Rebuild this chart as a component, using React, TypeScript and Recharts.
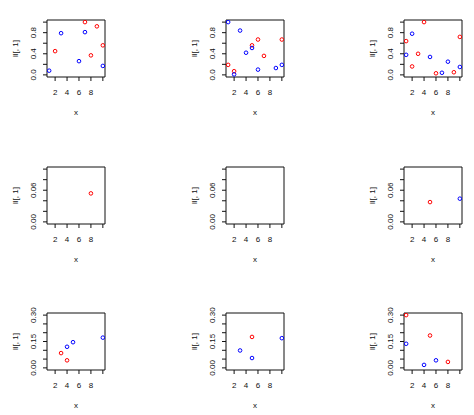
import React from "react";
import { ScatterChart, Scatter, XAxis, YAxis, ReferenceArea } from "recharts";

type Pt = [number, number];

// x positions shared by every panel
const xTicks = [2, 4, 6, 8, 10];
const xTickLabels = ["2", "4", "6", "8", ""];

// y axis per row
const rowYMax = [1, 0.1, 0.3];
const row1Ticks = [0, 0.2, 0.4, 0.6, 0.8, 1.0];
const row1Labels = ["0.0", "", "0.4", "", "0.8", ""];
const row2Ticks = [0, 0.02, 0.04, 0.06, 0.08, 0.1];
const row2Labels = ["0.00", "", "", "0.06", "", ""];
const row3Ticks = [0, 0.05, 0.1, 0.15, 0.2, 0.25, 0.3];
const row3Labels = ["0.00", "", "", "0.15", "", "", "0.30"];

// points, [x, ll[,1]]
const p1Red: Pt[] = [[2, 0.45], [7, 1.0], [8, 0.37], [9, 0.92], [10, 0.56]];
const p1Blue: Pt[] = [[1, 0.08], [3, 0.79], [6, 0.26], [7, 0.81], [10, 0.17]];
const p2Red: Pt[] = [[1, 0.19], [2, 0.07], [5, 0.56], [6, 0.67], [7, 0.36], [10, 0.67]];
const p2Blue: Pt[] = [[1, 1.0], [2, 0.01], [3, 0.84], [4, 0.42], [5, 0.51], [6, 0.1], [9, 0.13], [10, 0.19]];
const p3Red: Pt[] = [[1, 0.64], [2, 0.16], [3, 0.4], [4, 1.0], [6, 0.03], [9, 0.05], [10, 0.72]];
const p3Blue: Pt[] = [[1, 0.38], [2, 0.78], [5, 0.34], [7, 0.04], [8, 0.25], [10, 0.15]];
const p4Red: Pt[] = [[8, 0.054]];
const p4Blue: Pt[] = [];
const p5Red: Pt[] = [];
const p5Blue: Pt[] = [];
const p6Red: Pt[] = [[5, 0.0375]];
const p6Blue: Pt[] = [[10, 0.044]];
const p7Red: Pt[] = [[3, 0.084], [4, 0.043]];
const p7Blue: Pt[] = [[4, 0.12], [5, 0.146], [10, 0.172]];
const p8Red: Pt[] = [[5, 0.176]];
const p8Blue: Pt[] = [[3, 0.099], [5, 0.056], [10, 0.169]];
const p9Red: Pt[] = [[1, 0.3], [5, 0.184], [8, 0.034]];
const p9Blue: Pt[] = [[1, 0.137], [4, 0.017], [6, 0.043]];

const panels = [
  [p1Red, p1Blue], [p2Red, p2Blue], [p3Red, p3Blue],
  [p4Red, p4Blue], [p5Red, p5Blue], [p6Red, p6Blue],
  [p7Red, p7Blue], [p8Red, p8Blue], [p9Red, p9Blue],
];
const rowTicks = [row1Ticks, row2Ticks, row3Ticks];
const rowLabels = [row1Labels, row2Labels, row3Labels];

// layout of the plot boxes on the page
const boxLeft = [47, 225.5, 403.5];
const boxTop = [19.5, 166.5, 312.5];
const FONT = "'Liberation Sans', Arial, sans-serif";
const INK = "#111";

const toData = (pts: Pt[]) => pts.map(([x, y]) => ({ x, y }));

const circle = (color: string) => (props: any) =>
  props.cx == null ? <g /> : (
    <circle cx={props.cx} cy={props.cy} r={1.8} fill="none" stroke={color} strokeWidth={1} />
  );

function Panel({ idx }: { idx: number }) {
  const row = Math.floor(idx / 3);
  const col = idx % 3;
  const yMax = rowYMax[row];
  const yDomain = [-0.04 * yMax, 1.04 * yMax];
  const xDomain = [0.64, 10.36];
  const [red, blue] = panels[idx];
  const labels = rowLabels[row];

  const XTick = (p: any) => (
    <text x={p.x} y={p.y} textAnchor="middle" dominantBaseline="central"
      fontSize={8} fontFamily={FONT} fill={INK}>
      {xTickLabels[p.index]}
    </text>
  );
  const YTick = (p: any) => (
    <text x={p.x} y={p.y} transform={`rotate(-90 ${p.x} ${p.y})`} textAnchor="middle"
      dominantBaseline="central" fontSize={8} fontFamily={FONT} fill={INK}>
      {labels[p.index]}
    </text>
  );
  const xTitle = (p: any) => {
    const vb = p.viewBox || {};
    return (
      <text x={vb.x + vb.width / 2} y={vb.y + 35} textAnchor="middle" dominantBaseline="central"
        fontSize={8} fontFamily={FONT} fill={INK}>x</text>
    );
  };
  const yTitle = (p: any) => {
    const vb = p.viewBox || {};
    const cx = vb.x + vb.width - 31.5;
    const cy = vb.y + vb.height / 2;
    return (
      <text x={cx} y={cy} transform={`rotate(-90 ${cx} ${cy})`} textAnchor="middle"
        dominantBaseline="central" fontSize={8} fontFamily={FONT} fill={INK}>ll[, 1]</text>
    );
  };

  return (
    <div style={{ position: "absolute", left: boxLeft[col] - 50, top: boxTop[row] - 20 }}>
      <ScatterChart width={160} height={140} margin={{ top: 20, right: 52, bottom: 23, left: 10 }}>
        <XAxis dataKey="x" type="number" domain={xDomain} ticks={xTicks} interval={0}
          allowDataOverflow axisLine={false} tickSize={4} tickMargin={11}
          tickLine={{ stroke: INK }} tick={XTick} height={40} label={xTitle} />
        <YAxis dataKey="y" type="number" domain={yDomain} ticks={rowTicks[row]} interval={0}
          allowDataOverflow axisLine={false} tickSize={4} tickMargin={9.5}
          tickLine={{ stroke: INK }} tick={YTick} width={40} label={yTitle} />
        <ReferenceArea x1={xDomain[0]} x2={xDomain[1]} y1={yDomain[0]} y2={yDomain[1]}
          fill="none" stroke={INK} strokeWidth={1} ifOverflow="visible" />
        <Scatter data={toData(red)} shape={circle("#ff0000")} isAnimationActive={false} />
        <Scatter data={toData(blue)} shape={circle("#0000ff")} isAnimationActive={false} />
      </ScatterChart>
    </div>
  );
}

export default function App() {
  return (
    <div style={{ position: "absolute", left: 0, top: 0, width: 474, height: 415, background: "#fff", overflow: "hidden" }}>
      {panels.map((_, i) => (
        <Panel key={i} idx={i} />
      ))}
    </div>
  );
}
